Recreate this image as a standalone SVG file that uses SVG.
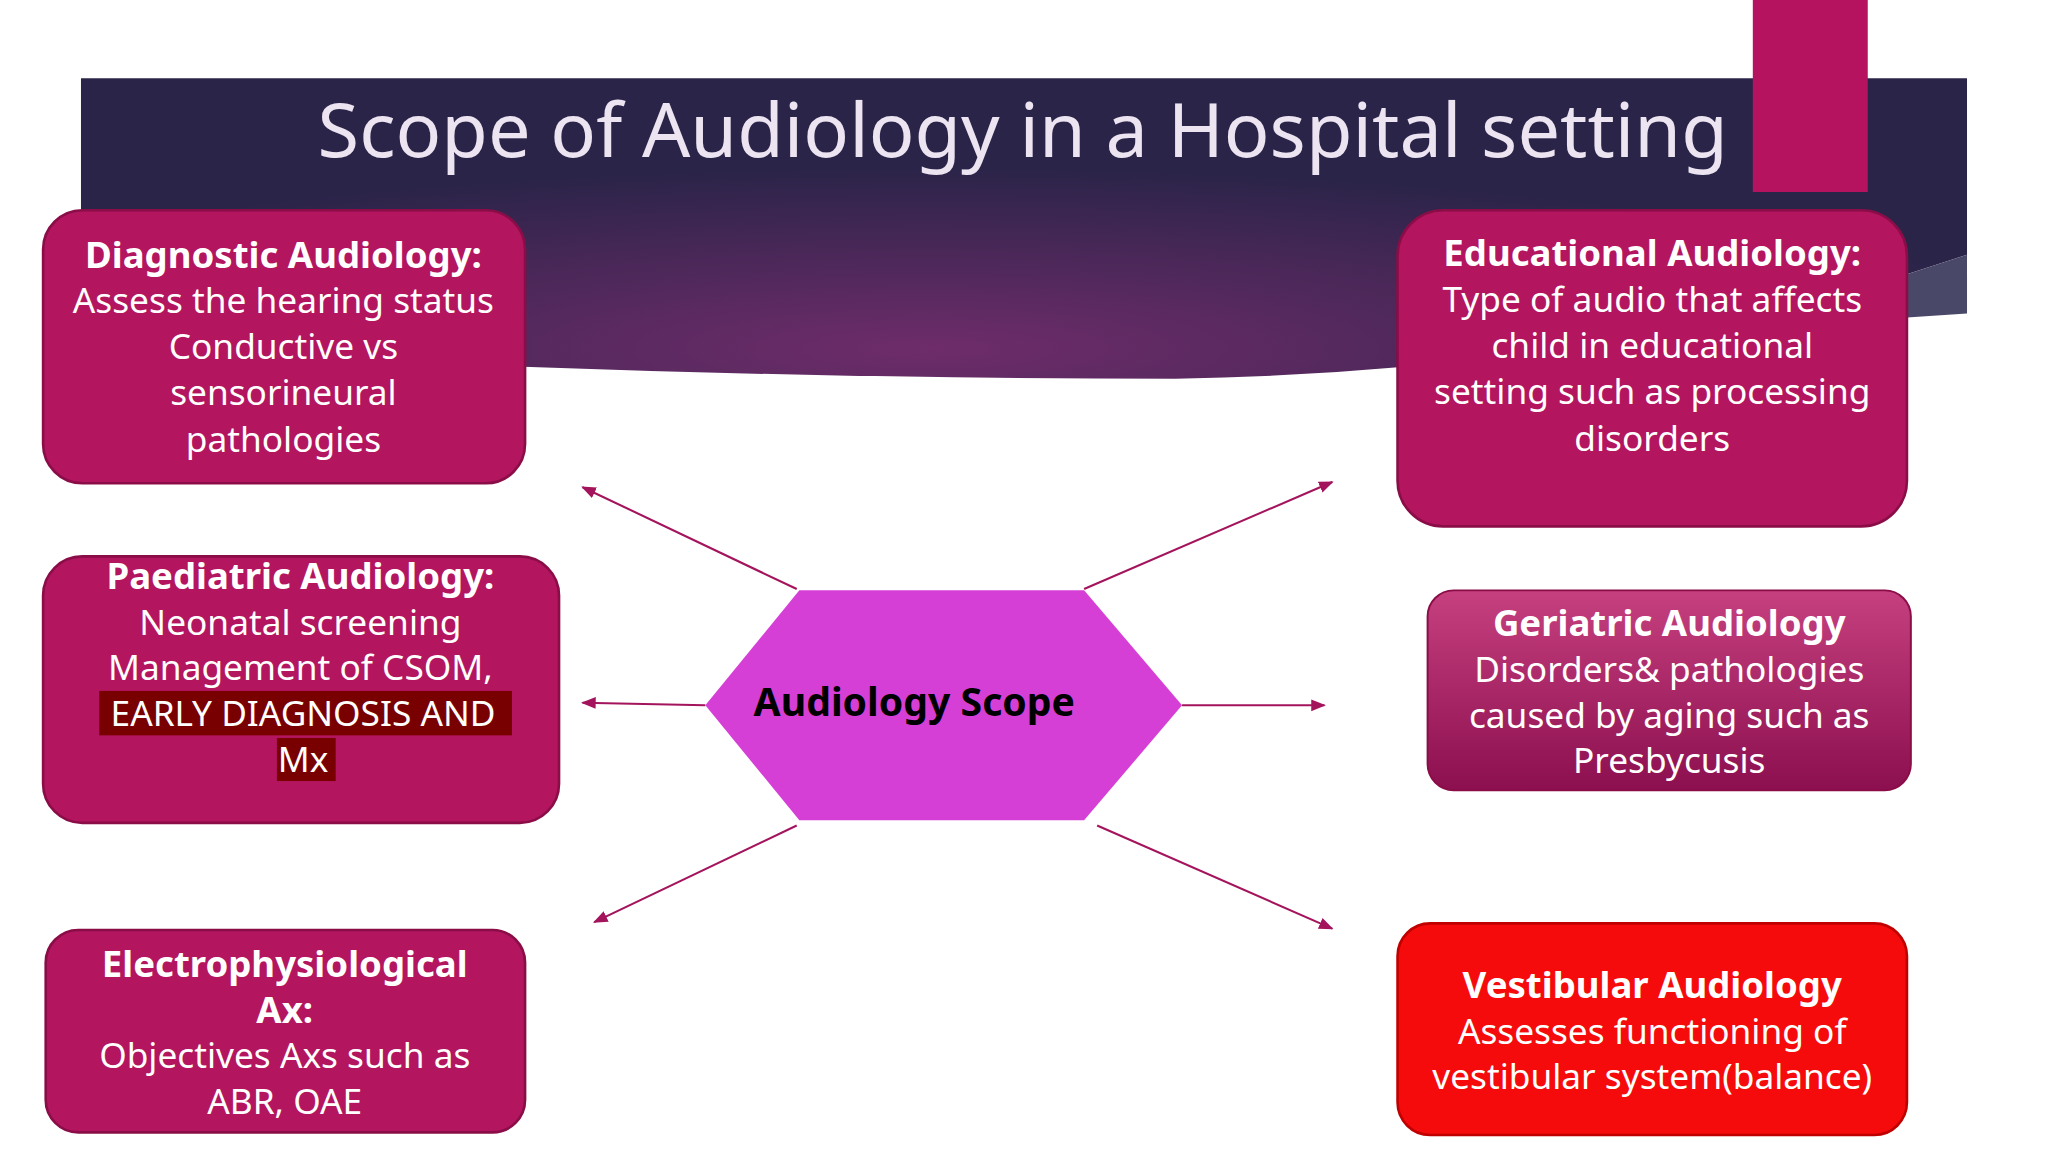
<svg xmlns="http://www.w3.org/2000/svg" width="2048" height="1152" viewBox="0 0 2048 1152">
<style>
.box{fill:#b3155f;stroke:#8a0d48;stroke-width:2}
.t{font-family:"Noto Sans","Open Sans",sans-serif;font-size:27px;fill:#fff;text-anchor:middle}
.b{font-weight:bold;font-size:28px}
.c{stroke:#a3145c;stroke-width:1.6;fill:none;marker-end:url(#ah)}
</style>
<defs>
<marker id="ah" viewBox="0 0 10 10" refX="9" refY="5" markerWidth="7" markerHeight="7" orient="auto"><path d="M0,1 L10,5 L0,9 Z" fill="#a3145c"/></marker>
<radialGradient id="hg" cx="0.45" cy="0.9" r="0.6"><stop offset="0" stop-color="#6e2c6a"/><stop offset="1" stop-color="#2b2449"/></radialGradient>
<linearGradient id="gg" x1="0" y1="0" x2="0" y2="1"><stop offset="0" stop-color="#c6407f"/><stop offset="1" stop-color="#8c0f4f"/></linearGradient>
</defs>
<rect width="2048" height="1152" fill="#fff"/>
<g transform="scale(1.30612)">
<g id="header">
<path d="M62,60 H1506 V195 L1460,210 Q1200,285 900,290 Q500,290 62,265 Z" fill="url(#hg)"/>
<path d="M1460,210 L1506,195 V240 L1460,243 Z" fill="#4a4868"/>
<rect x="1342" y="0" width="88" height="147" fill="#b5135f"/>
<text x="783" y="120" font-family="Noto Sans,Open Sans,sans-serif" font-size="58" fill="#ece4f0" text-anchor="middle">Scope of Audiology in a Hospital setting</text>
</g>
<g id="connectors">
<line class="c" x1="610" y1="451" x2="446" y2="373"/>
<line class="c" x1="830" y1="451" x2="1020" y2="369"/>
<line class="c" x1="540" y1="540" x2="446" y2="538"/>
<line class="c" x1="905" y1="540" x2="1014" y2="540"/>
<line class="c" x1="610" y1="632" x2="455" y2="706"/>
<line class="c" x1="840" y1="632" x2="1020" y2="711"/>
</g>
<g id="center">
<polygon points="612,452 830,452 905,540 830,628 612,628 540,540" fill="#d63fd6"/>
<text x="700" y="548" font-family="Noto Sans,Open Sans,sans-serif" font-size="30" font-weight="bold" fill="#000" text-anchor="middle">Audiology Scope</text>
</g>
<g id="diagnostic">
<rect class="box" x="33" y="161" width="369" height="209" rx="30"/>
<text class="t b" x="217" y="205">Diagnostic Audiology:</text>
<text class="t" x="217" y="240">Assess the hearing status</text>
<text class="t" x="217" y="275">Conductive vs</text>
<text class="t" x="217" y="310">sensorineural</text>
<text class="t" x="217" y="346">pathologies</text>
</g>
<g id="paediatric">
<rect class="box" x="33" y="426" width="395" height="204" rx="30"/>
<rect x="76" y="529" width="316" height="34" fill="#780000"/>
<rect x="212" y="565" width="45" height="33" fill="#780000"/>
<text class="t b" x="230" y="451">Paediatric Audiology:</text>
<text class="t" x="230" y="486">Neonatal screening</text>
<text class="t" x="230" y="521">Management of CSOM,</text>
<text class="t" x="232" y="556">EARLY DIAGNOSIS AND</text>
<text class="t" x="232" y="591">Mx</text>
</g>
<g id="electro">
<rect class="box" x="35" y="712" width="367" height="155" rx="25"/>
<text class="t b" x="218" y="748">Electrophysiological</text>
<text class="t b" x="218" y="783">Ax:</text>
<text class="t" x="218" y="818">Objectives Axs such as</text>
<text class="t" x="218" y="853">ABR, OAE</text>
</g>
<g id="educational">
<rect class="box" x="1070" y="161" width="390" height="242" rx="35"/>
<text class="t b" x="1265" y="204">Educational Audiology:</text>
<text class="t" x="1265" y="239">Type of audio that affects</text>
<text class="t" x="1265" y="274">child in educational</text>
<text class="t" x="1265" y="309">setting such as processing</text>
<text class="t" x="1265" y="345">disorders</text>
</g>
<g id="geriatric">
<rect x="1093" y="452" width="370" height="153" rx="20" fill="url(#gg)" stroke="#8a0d48" stroke-width="1.5"/>
<text class="t b" x="1278" y="487">Geriatric Audiology</text>
<text class="t" x="1278" y="522">Disorders&amp; pathologies</text>
<text class="t" x="1278" y="557">caused by aging such as</text>
<text class="t" x="1278" y="592">Presbycusis</text>
</g>
<g id="vestibular">
<rect x="1070" y="707" width="390" height="162" rx="25" fill="#f50b0b" stroke="#c00000" stroke-width="2"/>
<text class="t b" x="1265" y="764">Vestibular Audiology</text>
<text class="t" x="1265" y="799">Assesses functioning of</text>
<text class="t" x="1265" y="834">vestibular system(balance)</text>
</g>
</g>
</svg>
